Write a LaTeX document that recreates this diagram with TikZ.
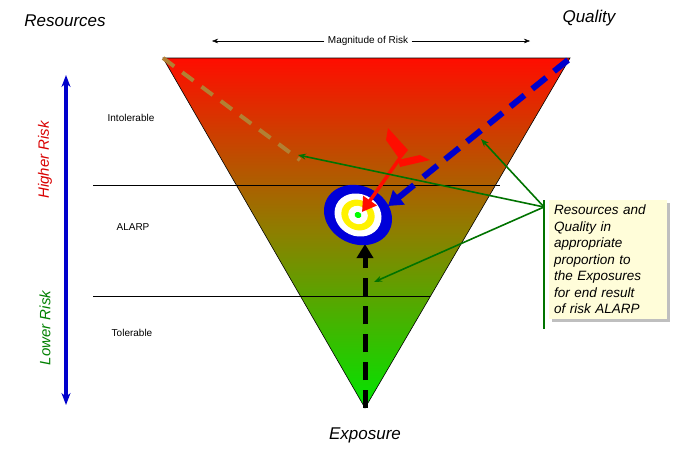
\documentclass[tikz,border=0pt]{standalone}
\usepackage{fontspec}
\setmainfont{Liberation Sans}
\usetikzlibrary{arrows.meta,shadows}
\begin{document}
\begin{tikzpicture}[x=1pt,y=-1pt,
 lbl/.style={font=\fontsize{10}{12}\selectfont},
 big/.style={font=\fontsize{17}{20}\selectfont\itshape},
 gline/.style={draw=green!45!black,line width=1.6pt}]
\useasboundingbox (0,0) rectangle (693,456);
\coordinate (TL) at (163,58); \coordinate (TR) at (570,58); \coordinate (B) at (365,408);
\begin{scope}
\clip (TL)--(TR)--(B)--cycle;
\shade[top color=red!90!orange, bottom color=green!90!black, middle color=olive!90!orange] (150,58) rectangle (580,408);
\end{scope}
\draw[line width=0.6pt] (TL)--(TR)--(B)--cycle;
\draw (93,185)--(500,185);
\draw (93,296)--(430,296);
\node[lbl] (mag) at (368,41) {Magnitude of Risk};
\draw[-{Stealth[length=6pt]}] (mag.west)--(212,41);
\draw[-{Stealth[length=6pt]}] (mag.east)--(530,41);
\coordinate (va) at (66,75); \coordinate (vb) at (66,405);
\draw[blue!80!black,line width=4pt,{Stealth[length=12pt]}-{Stealth[length=12pt]}] (va)--(vb);
\node[red!85!black,rotate=90,font=\fontsize{15}{18}\selectfont\itshape] (hr) at (45,160) {Higher Risk};
\node[green!50!black,rotate=90,font=\fontsize{15}{18}\selectfont\itshape] (lr) at (45,328) {Lower Risk};
\node[big] (res) at (65,21) {Resources};
\node[big] (qual) at (589,18) {Quality};
\node[big] (exp) at (365,435) {Exposure};
\node[lbl] (int) at (131,118) {Intolerable};
\node[lbl] (al) at (133,227) {ALARP};
\node[lbl] (tol) at (132,333) {Tolerable};
\draw[brown!80!olive,line width=4pt,dash pattern=on 14pt off 10pt] (TL)--(300,160);
\draw[blue!80!black,line width=6pt,dash pattern=on 18pt off 10pt] (568,60)--(422,178);
\coordinate (bt) at (414,185);
\draw[blue!80!black,line width=6pt,-{Triangle[length=14pt,width=18pt]}] (bt)--(388,206);
\draw[black,line width=5pt,dash pattern=on 18pt off 10pt] (B)--(365,262);
\coordinate (kt) at (365,262);
\draw[black,line width=5pt,-{Triangle[length=14pt,width=16pt]}] (kt)--(365,244);
\begin{scope}[shift={(358,215)},rotate=-25]
\fill[blue!85!black] (0,0) ellipse (35 and 29);
\fill[white] (0,0) ellipse (24 and 21);
\fill[yellow] (0,0) ellipse (17 and 15);
\fill[white] (0,0) ellipse (10 and 9);
\fill[green] (0,0) ellipse (3.5 and 3);
\end{scope}
\draw[red!90!orange,line width=3.5pt,-{Triangle[length=14pt,width=16pt]}] (400,158)--(362,212);
\fill[red!90!orange] (400,160) -- (386,140) -- (388,128) -- (408,150) -- cycle;
\fill[red!90!orange] (398,160) -- (420,155) -- (430,160) -- (400,167) -- cycle;
\node[fill=yellow!15,drop shadow={shadow xshift=3pt,shadow yshift=-3pt,opacity=0.5},align=left,text width=108pt,inner sep=5pt,font=\fontsize{13.5}{16.5}\selectfont\itshape,anchor=north west] (box) at (549,200) {Resources and\\Quality in\\appropriate\\proportion to\\the Exposures\\for end result\\of risk ALARP};
\coordinate (gp) at (544,207);
\draw[gline] (544,200)--(544,329);
\draw[gline,-{Stealth[length=8pt]}] (gp)--(298,155);
\draw[gline,-{Stealth[length=8pt]}] (gp)--(481,139);
\draw[gline,-{Stealth[length=8pt]}] (gp)--(374,282);
\end{tikzpicture}
\end{document}
